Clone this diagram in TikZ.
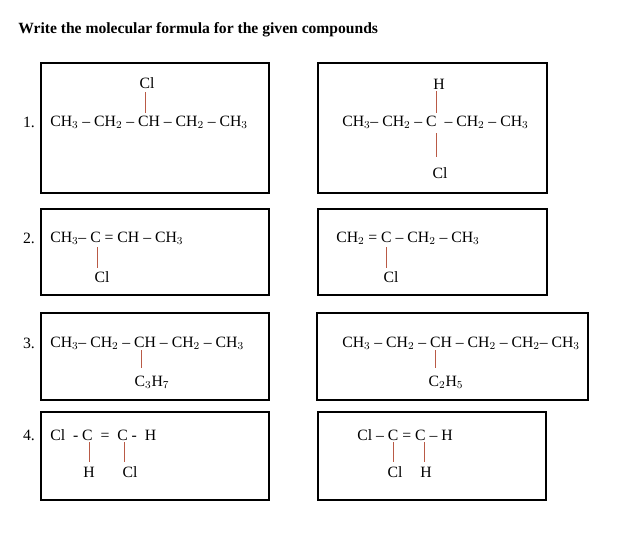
\documentclass[tikz,border=0pt]{standalone}
\usepackage{fontspec}
\setmainfont{Liberation Serif}
\definecolor{bond}{RGB}{185,90,70}
\begin{document}
\begin{tikzpicture}[x=0.75pt,y=-0.75pt,
  box/.style={draw,line width=1.2pt},
  txt/.style={font=\fontsize{11.8}{13}\selectfont,inner sep=0pt},
  ch/.style={txt,anchor=west},
  bd/.style={bond,line width=0.6pt}]
\useasboundingbox (0,0) rectangle (623,543);
\node[anchor=west,inner sep=0pt,font=\bfseries\fontsize{11.7}{13}\selectfont] (title) at (18,30) {Write the molecular formula for the given compounds};
% boxes
\draw[box] (41,63) rectangle (269,193); \draw[box] (318,63) rectangle (547,193);
\draw[box] (41,209) rectangle (269,295); \draw[box] (318,209) rectangle (547,295);
\draw[box] (41,313) rectangle (269,400); \draw[box] (317,313) rectangle (588,400);
\draw[box] (41,412) rectangle (269,500); \draw[box] (318,412) rectangle (546,500);
% numbers
\node[txt] (n1) at (29,122) {1.}; \node[txt] (n2) at (29,238) {2.};
\node[txt] (n3) at (29,343) {3.}; \node[txt] (n4) at (29,435) {4.};
% 1 left
\node[ch] (c1) at (50,122) {CH$_3$ – CH$_2$ – CH – CH$_2$ – CH$_3$};
\node[txt] (cl1) at (147,83) {Cl};
\coordinate (b1a) at (145,92); \coordinate (b1b) at (145,113);
\draw[bd] (b1a) -- (b1b);
% 1 right
\node[ch] (c2) at (342,122) {CH$_3$– CH$_2$ – C \ – CH$_2$ – CH$_3$};
\node[txt] (h2) at (439,84) {H}; \node[txt] (cl2) at (440,173) {Cl};
\coordinate (b2a) at (436,91); \coordinate (b2b) at (436,113);
\coordinate (b2c) at (436,133); \coordinate (b2d) at (436,157);
\draw[bd] (b2a) -- (b2b); \draw[bd] (b2c) -- (b2d);
% 2 left
\node[ch] (c3) at (50,238) {CH$_3$– C = CH – CH$_3$};
\node[txt] (cl3) at (102,277) {Cl};
\coordinate (b3a) at (97,247); \coordinate (b3b) at (97,268);
\draw[bd] (b3a) -- (b3b);
% 2 right
\node[ch] (c4) at (336,238) {CH$_2$ = C – CH$_2$ – CH$_3$};
\node[txt] (cl4) at (391,277) {Cl};
\coordinate (b4a) at (386,247); \coordinate (b4b) at (386,268);
\draw[bd] (b4a) -- (b4b);
% 3 left
\node[ch] (c5) at (50,343) {CH$_3$– CH$_2$ – CH – CH$_2$ – CH$_3$};
\node[txt] (s5) at (152,382) {C$_3$H$_7$};
\coordinate (b5a) at (141,350); \coordinate (b5b) at (141,368);
\draw[bd] (b5a) -- (b5b);
% 3 right
\node[ch] (c6) at (342,343) {CH$_3$ – CH$_2$ – CH – CH$_2$ – CH$_2$– CH$_3$};
\node[txt] (s6) at (446,382) {C$_2$H$_5$};
\coordinate (b6a) at (435,350); \coordinate (b6b) at (435,368);
\draw[bd] (b6a) -- (b6b);
% 4 left
\node[ch] (c7) at (50,435) {Cl\ \ - C \ = \ C - \ H};
\node[txt] (h7) at (89,472) {H}; \node[txt] (cl7) at (130,472) {Cl};
\coordinate (b7a) at (89,442); \coordinate (b7b) at (89,462);
\coordinate (b7c) at (124,442); \coordinate (b7d) at (124,462);
\draw[bd] (b7a) -- (b7b); \draw[bd] (b7c) -- (b7d);
% 4 right
\node[ch] (c8) at (357,435) {Cl – C = C – H};
\node[txt] (cl8) at (395,472) {Cl}; \node[txt] (h8) at (426,472) {H};
\coordinate (b8a) at (393,442); \coordinate (b8b) at (393,462);
\coordinate (b8c) at (424,442); \coordinate (b8d) at (424,462);
\draw[bd] (b8a) -- (b8b); \draw[bd] (b8c) -- (b8d);
\end{tikzpicture}
\end{document}
